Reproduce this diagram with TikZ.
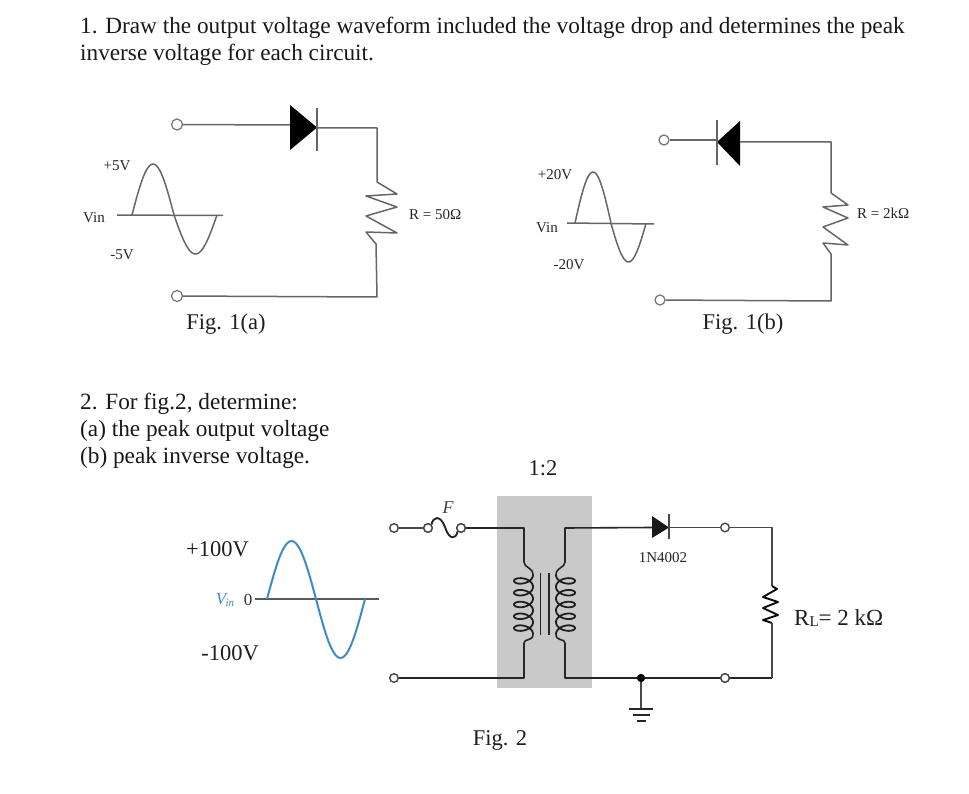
\documentclass[tikz,border=0pt]{standalone}
\usepackage{fontspec}
\setmainfont{Liberation Serif}
\tikzset{
  hd/.style={anchor=west,inner sep=0pt,font=\fontsize{23.25}{26}\selectfont,text=black!90},
  figl/.style={inner sep=0pt,font=\fontsize{22.5}{26}\selectfont,text=black!88},
  sm/.style={inner sep=0pt,font=\fontsize{15}{18}\selectfont,text=black!85},
  vlab/.style={inner sep=0pt,font=\fontsize{22.5}{26}\selectfont,text=black!88},
  wa/.style={draw=black!60,line width=1.5pt,line join=round},
  wb/.style={draw=black!72,line width=1.6pt,line join=round},
  terma/.style={circle,draw=black!55,fill=white,line width=1.2pt,minimum size=11pt,inner sep=0pt},
  termb/.style={circle,draw=black!72,fill=white,line width=1.4pt,minimum size=8.5pt,inner sep=0pt},
  dfill/.style={fill=black,draw=none},
}
\definecolor{wave}{HTML}{3C8CCB}
\newcommand{\halfsine}[5]{% style, x0, x1, y0, peak y
  \draw[#1] plot[smooth,domain=0:180,samples=25] ({#2+(#3-#2)*\x/180},{#4+(#5-#4)*sin(\x)});}
\begin{document}
\begin{tikzpicture}[x=1pt,y=-1pt]
\useasboundingbox (0,0) rectangle (969,794);
\fill[white] (0,0) rectangle (969,794);

% headings
\node[hd] (h1) at (80,28) {1. Draw the output voltage waveform included the voltage drop and determines the peak};
\node[hd] (h2) at (80,55) {inverse voltage for each circuit.};
\node[hd] (q0) at (80,404) {2. For fig.2, determine:};
\node[hd] (q1) at (80,431) {(a) the peak output voltage};
\node[hd] (q2) at (80,458) {(b) peak inverse voltage.};

% ---------- Fig 1(a)
\node[terma] (a1) at (177,124.5) {};
\node[terma] (a2) at (177,296) {};
\coordinate (adl) at (290,125);
\coordinate (adr) at (317,128);
\coordinate (atr) at (377,128);
\coordinate (arT) at (377,182);
\coordinate (arB) at (376,244);
\coordinate (abr) at (377,297);
\draw[wa] (a1) -- (adl);
\fill[dfill] (290,105) -- (290,150) -- (317,127.5) -- cycle;
\draw[wa] (317,108) -- (317,151);
\draw[wa] (adr) -- (atr) -- (arT) -- (397,194) -- (366,196) -- (397,207) -- (366,216) -- (397,233) -- (366,232) -- (arB) -- (abr) -- (a2);
\draw[wa] (117,215) -- (223,215.5);
\halfsine{wa}{132}{174}{215}{164}
\halfsine{wa}{174}{217}{215}{254}
\node[sm] (a+) at (117,166) {+5V};
\node[sm] (av) at (94,218) {Vin};
\node[sm] (a-) at (122,255) {-5V};
\node[sm,anchor=west] (ar) at (409,215) {R = 50Ω};
\node[figl] (fa) at (226,324) {Fig. 1(a)};

% ---------- Fig 1(b)
\node[terma,minimum size=10pt] (b1) at (664,140) {};
\node[terma,minimum size=10pt] (b2) at (660,300) {};
\coordinate (bdl) at (717,140);
\coordinate (bdr) at (740,142);
\coordinate (btr) at (831,142);
\coordinate (brT) at (831,193);
\coordinate (brB) at (831,254);
\coordinate (bbr) at (831,301);
\draw[wa] (b1) -- (bdl);
\fill[dfill] (740,121) -- (740,166) -- (717,142) -- cycle;
\draw[wa] (717,120) -- (717,165);
\draw[wa] (bdr) -- (btr) -- (brT) -- (848,205) -- (823,207) -- (848,218) -- (823,227) -- (848,245) -- (823,243) -- (brB) -- (bbr) -- (b2);
\draw[wa] (567,223) -- (654,224);
\halfsine{wa}{575}{611}{223}{172}
\halfsine{wa}{611}{646}{223.5}{262}
\node[sm] (b+) at (555,175) {+20V};
\node[sm] (bv) at (547,228) {Vin};
\node[sm] (b-) at (569,265) {-20V};
\node[sm,anchor=west] (br) at (857,213) {R = 2kΩ};
\node[figl] (fb) at (743,324) {Fig. 1(b)};

% ---------- Fig 2
\fill[black!21] (497,496) rectangle (592,688);
\node[termb] (c1) at (394,528) {};
\node[termb] (c2) at (394,678) {};
\node[termb] (f1) at (428,528) {};
\node[termb] (f2) at (461,528) {};
\coordinate (pT) at (524,528);
\coordinate (pB) at (524,678);
\coordinate (sT) at (565,528);
\coordinate (sB) at (565,678);
\coordinate (pc1) at (524,562);
\coordinate (pc2) at (524,643);
\coordinate (sc1) at (565,562);
\coordinate (sc2) at (565,643);
\coordinate (d1) at (652,527.5);
\coordinate (d2) at (669,527.5);
\node[termb] (o1) at (725,527.5) {};
\node[termb] (o2) at (725,678) {};
\coordinate (rTR) at (772,527.5);
\coordinate (rT) at (772,586);
\coordinate (rB) at (772,623);
\coordinate (rBR) at (772,678);
\node[circle,fill=black,minimum size=8pt,inner sep=0pt] (jn) at (641,678) {};
\coordinate (gnd) at (641,708);

\draw[wb] (c1) -- (f1);
\draw[wb,line width=1.9pt,draw=black!85] (f1.north east) .. controls (433,517) and (440,514) .. (445,527) .. controls (449,540) and (456,540) .. (f2.south west);
\draw[wb,draw=black!85] (f2) -- (pT) -- (pc1) .. controls (524,568) and (533,567) .. (533,575);
\draw[wb,draw=black!85] (533,634) .. controls (533,642) and (524,638) .. (pc2) -- (pB) -- (c2);
\draw[wb,draw=black!85] (d1) -- (sT) -- (sc1) .. controls (565,568) and (556,567) .. (556,575);
\draw[wb,draw=black!85] (556,634) .. controls (556,642) and (565,638) .. (sc2) -- (sB) -- (rBR);
\draw[black!88,line width=1.8pt] plot[smooth,domain=0:1800,samples=150] ({523.5+9.5*cos(\x)},{575+0.03278*\x+5.4*sin(\x)});
\draw[black!88,line width=1.8pt] plot[smooth,domain=0:1800,samples=150] ({565.5-9.5*cos(\x)},{575+0.03278*\x+5.4*sin(\x)});
\draw[black!85,line width=1.5pt] (540.3,573) -- (540.3,635);
\draw[black!85,line width=1.5pt] (549,573) -- (549,635);
\node[termb] at (f1) {};
\node[termb] at (f2) {};
\node[termb] at (o2) {};
\node[circle,fill=black,minimum size=8pt,inner sep=0pt] at (jn) {};
\node[inner sep=0pt,font=\fontsize{18}{18}\selectfont\itshape,text=black!75] (fl) at (448,508) {F};

\fill[dfill,fill=black!90] (652,516) -- (652,538) -- (669,527.5) -- cycle;
\draw[wb] (669,514) -- (669,539);
\draw[wb] (d2) -- (o1) -- (rTR) -- (rT);
\draw[wb,draw=black!95,line width=1.9pt] (rT) -- (777,589) -- (763,597) -- (778,602) -- (763,608) -- (778,615) -- (763,620) -- (rB);
\draw[wb] (rB) -- (rBR);
\draw[wb] (jn) -- (gnd);
\draw[black!85,line width=1.8pt] (629,709) -- (653,709);
\draw[black!85,line width=1.8pt] (633,715) -- (650,715);
\draw[black!85,line width=1.8pt] (637,721) -- (646,721);

\draw[black!65,line width=1.5pt] (255,599) -- (379,599);
\halfsine{wave,line width=2pt}{267}{316}{599}{541}
\halfsine{wave,line width=2pt}{316}{365}{599}{658}
\node[vlab,anchor=east] (p100) at (249,549) {+100V};
\node[vlab,anchor=east] (m100) at (259,653) {-100V};
\node[inner sep=0pt,font=\fontsize{17}{18}\selectfont\itshape,text=wave] (vin) at (225,600) {V\kern-0.5pt\raisebox{-2.5pt}{\fontsize{11}{12}\selectfont in}};
\node[inner sep=0pt,font=\fontsize{17}{18}\selectfont,text=black!80] (zero) at (248,600) {0};

\node[vlab] (ratio) at (543,468) {1:2};
\node[figl] (f2cap) at (500,740) {Fig. 2};
\node[sm] (dn) at (663,558) {1N4002};
\node[inner sep=0pt,anchor=west,font=\fontsize{23}{26}\selectfont,text=black!88] (rl) at (794,618) {R\raisebox{-1pt}{\fontsize{15}{16}\selectfont L}= 2 kΩ};
\end{tikzpicture}
\end{document}
